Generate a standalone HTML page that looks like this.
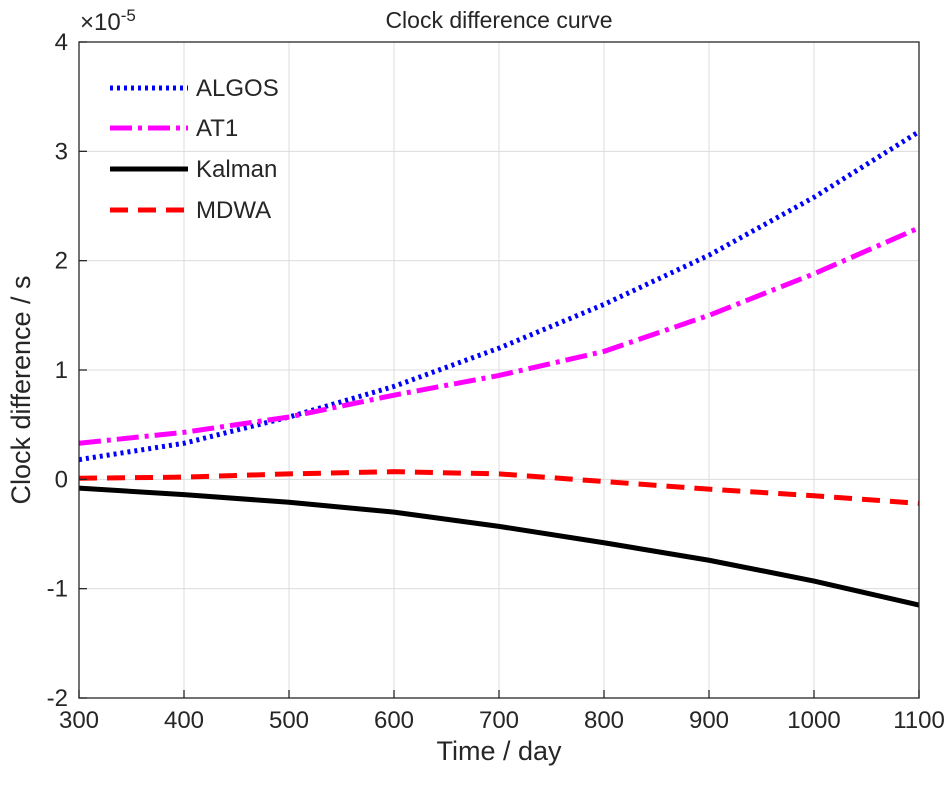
<!DOCTYPE html>
<html><head><meta charset="utf-8"><style>
body{margin:0;background:#fff}
text{font-family:"Liberation Sans",Arial,sans-serif;fill:#262626}
</style></head><body>
<svg id="chart" width="950" height="795">
<rect x="0" y="0" width="950" height="795" fill="#fff"/>
<g id="grid"></g>
<g id="series"></g>
<rect x="79" y="42" width="840" height="656" fill="none" stroke="#262626" stroke-width="1.3"/>
<g id="ticks"></g>
<text x="499" y="28" text-anchor="middle" font-size="23">Clock difference curve</text>
<text x="80" y="30" font-size="24">×10<tspan dy="-9" font-size="17">-5</tspan></text>
<text x="499" y="760" text-anchor="middle" font-size="27">Time / day</text>
<text transform="translate(30,390) rotate(-90)" text-anchor="middle" font-size="27">Clock difference / s</text>
<g id="legend"></g>
</svg>
<script>
const xs=[300,400,500,600,700,800,900,1000,1100];
const algos=[0.18,0.33,0.57,0.85,1.2,1.6,2.05,2.58,3.18];
const at1=[0.33,0.43,0.57,0.77,0.95,1.17,1.5,1.88,2.3];
const kalman=[-0.08,-0.14,-0.21,-0.3,-0.43,-0.58,-0.74,-0.93,-1.15];
const mdwa=[0.01,0.02,0.05,0.07,0.05,-0.02,-0.09,-0.15,-0.22];
const xTicks=[300,400,500,600,700,800,900,1000,1100];
const yTicks=[-2,-1,0,1,2,3,4];
const names=["ALGOS","AT1","Kalman","MDWA"];
const NS="http://www.w3.org/2000/svg";
const X=v=>79+(v-300)/800*840, Y=v=>698-(v+2)/6*656;
function mk(t,a,p){const e=document.createElementNS(NS,t);for(const k in a)e.setAttribute(k,a[k]);document.getElementById(p).appendChild(e);return e;}
xTicks.forEach(t=>{
 const g=mk('line',{x1:X(t),x2:X(t),y1:42,y2:698,stroke:'#dcdcdc','stroke-width':1},'grid');
 
 
 const k=mk('line',{x1:X(t),x2:X(t),y1:690,y2:698,stroke:'#262626','stroke-width':1.3},'ticks');
 
 
 const l=mk('text',{x:X(t),y:728,'text-anchor':'middle','font-size':24},'ticks');l.textContent=t;
 
 
});
yTicks.forEach(t=>{
 const g=mk('line',{x1:79,x2:919,y1:Y(t),y2:Y(t),stroke:'#dcdcdc','stroke-width':1},'grid');
 
 
 const k=mk('line',{x1:79,x2:87,y1:Y(t),y2:Y(t),stroke:'#262626','stroke-width':1.3},'ticks');
 
 
 const l=mk('text',{x:68,y:Y(t)+8,'text-anchor':'end','font-size':24},'ticks');l.textContent=t;
 
 
});
const styles=[
 {stroke:'#0000ff',dash:'3,4',w:5},
 {stroke:'#ff00ff',dash:'22,6,4,6',w:5},
 {stroke:'#000',dash:'',w:5},
 {stroke:'#ff0000',dash:'18,10',w:5}];
[algos,at1,kalman,mdwa].forEach((s,i)=>{
 const p=mk('polyline',{points:s.map((v,j)=>X(xs[j])+','+Y(v)).join(' '),fill:'none',stroke:styles[i].stroke,'stroke-width':styles[i].w,'stroke-dasharray':styles[i].dash},'series');
 
 
 const ly=[88,128,169,210][i];
 const l=mk('line',{x1:110,x2:188,y1:ly,y2:ly,stroke:styles[i].stroke,'stroke-width':styles[i].w,'stroke-dasharray':styles[i].dash},'legend');
 
 
 const t=mk('text',{x:196,y:ly+8,'font-size':24},'legend');t.textContent=names[i];
 
 
});
</script>
</body></html>
